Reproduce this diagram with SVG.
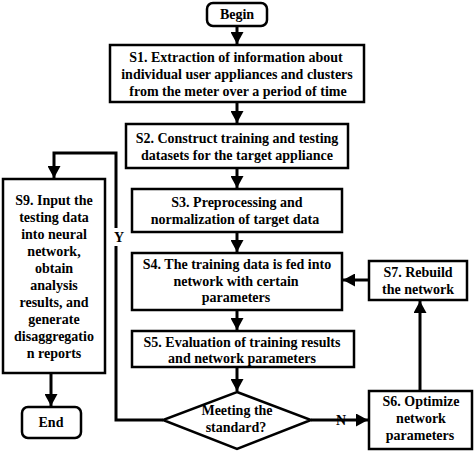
<svg xmlns="http://www.w3.org/2000/svg" width="474" height="451" viewBox="0 0 474 451">
<defs>
<marker id="ah" markerUnits="userSpaceOnUse" markerWidth="13" markerHeight="13" refX="12" refY="6.5" orient="auto">
<path d="M0,0 L12,6.5 L0,13 z" fill="#000"/>
</marker>
<style>
.box{fill:#fff;stroke:#000;stroke-width:2.5}
.ln{fill:none;stroke:#000;stroke-width:3}
text{font-family:"Liberation Serif","Times New Roman",serif;font-weight:bold;font-size:14px;fill:#000;text-anchor:middle}
</style>
</defs>
<rect width="474" height="451" fill="#fff"/>
<g id="connectors">
<path class="ln" d="M237,26 V44" marker-end="url(#ah)"/>
<path class="ln" d="M237,102 V123" marker-end="url(#ah)"/>
<path class="ln" d="M237,168 V188" marker-end="url(#ah)"/>
<path class="ln" d="M237,232 V252" marker-end="url(#ah)"/>
<path class="ln" d="M237,310 V330" marker-end="url(#ah)"/>
<path class="ln" d="M237,367 V391" marker-end="url(#ah)"/>
<path class="ln" d="M311,420 H368" marker-end="url(#ah)"/>
<path class="ln" d="M420,391 V301" marker-end="url(#ah)"/>
<path class="ln" d="M369,280 H343" marker-end="url(#ah)"/>
<path class="ln" d="M163,420 H116 V246"/>
<path class="ln" d="M116,228 V153 H54 V178" marker-end="url(#ah)"/>
<path class="ln" d="M51,373 V406" marker-end="url(#ah)"/>
<text x="119" y="242">Y</text>
<text x="341" y="425">N</text>
</g>
<g id="begin">
<rect class="box" x="207" y="3" width="60" height="23" rx="6"/>
<text x="237" y="19">Begin</text>
</g>
<g id="s1">
<rect class="box" x="110" y="45" width="254" height="57"/>
<text x="236" y="62">S1. Extraction of information about</text>
<text x="237" y="79">individual user appliances and clusters</text>
<text x="238" y="96">from the meter over a period of time</text>
</g>
<g id="s2">
<rect class="box" x="126" y="124" width="222" height="44"/>
<text x="237" y="143">S2. Construct training and testing</text>
<text x="237" y="160">datasets for the target appliance</text>
</g>
<g id="s3">
<rect class="box" x="132" y="189" width="210" height="43"/>
<text x="237" y="207">S3. Preprocessing and</text>
<text x="235" y="224">normalization of target data</text>
</g>
<g id="s4">
<rect class="box" x="132" y="253" width="210" height="57"/>
<text x="237" y="269">S4. The training data is fed into</text>
<text x="236" y="286">network with certain</text>
<text x="236" y="302">parameters</text>
</g>
<g id="s5">
<rect class="box" x="132" y="331" width="222" height="36"/>
<text x="242" y="347">S5. Evaluation of training results</text>
<text x="242" y="363">and network parameters</text>
</g>
<g id="decision">
<polygon class="box" points="237,392 311,420 237,449 163,420"/>
<text x="237" y="415">Meeting the</text>
<text x="236" y="432">standard?</text>
</g>
<g id="s6">
<rect class="box" x="369" y="391" width="103" height="58"/>
<text x="421" y="406">S6. Optimize</text>
<text x="421" y="423">network</text>
<text x="420" y="440">parameters</text>
</g>
<g id="s7">
<rect class="box" x="369" y="261" width="98" height="39"/>
<text x="418" y="277">S7. Rebuild</text>
<text x="418" y="294">the network</text>
</g>
<g id="s9">
<rect class="box" x="3" y="179" width="102" height="194"/>
<text x="54" y="205">S9. Input the</text>
<text x="54" y="222">testing data</text>
<text x="54" y="239">into neural</text>
<text x="54" y="256">network,</text>
<text x="54" y="273">obtain</text>
<text x="54" y="290">analysis</text>
<text x="54" y="307">results, and</text>
<text x="54" y="324">generate</text>
<text x="54" y="341">disaggregatio</text>
<text x="54" y="358">n reports</text>
</g>
<g id="end">
<rect class="box" x="22" y="407" width="59" height="31" rx="6"/>
<text x="51" y="427">End</text>
</g>
</svg>
